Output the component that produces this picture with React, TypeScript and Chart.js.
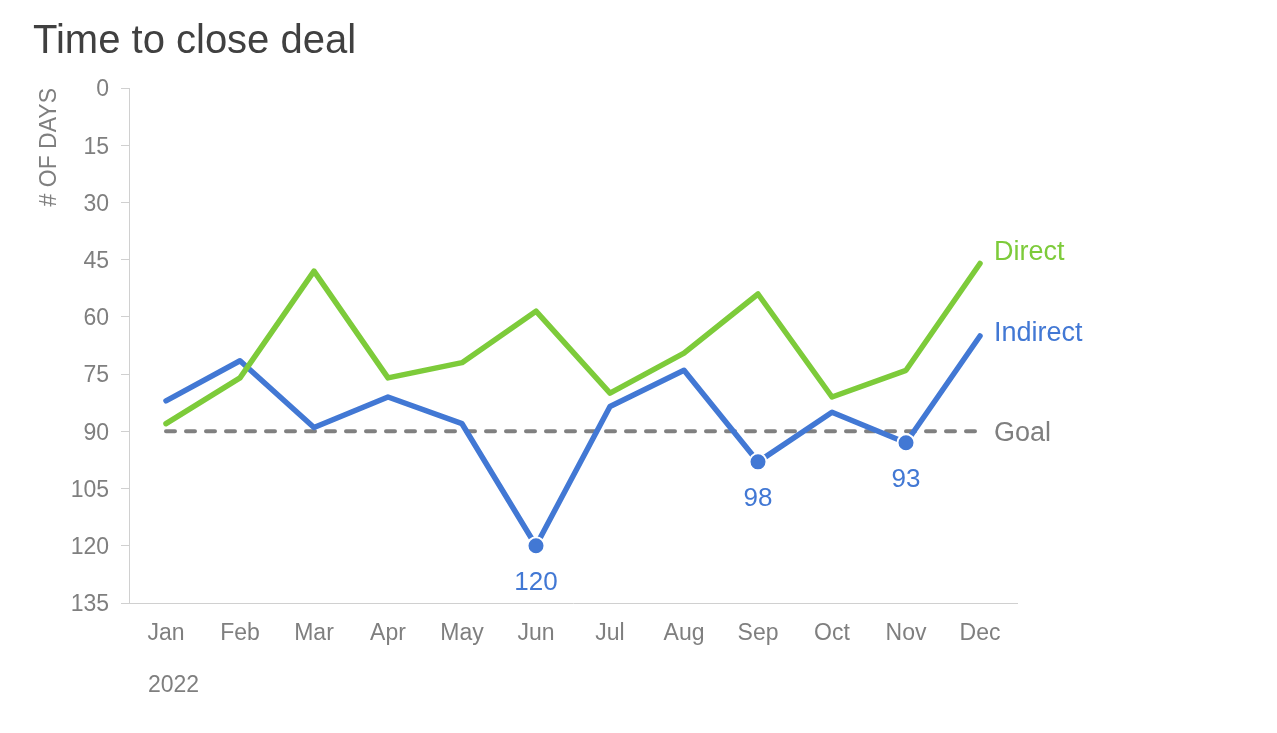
import React, { useEffect, useRef } from "react";
import { Chart, registerables } from "chart.js";

Chart.register(...registerables);

const FONT = '"Liberation Sans", Arial, Helvetica, sans-serif';

const chartTitle = "Time to close deal";
const yAxisTitle = "# OF DAYS";
const yearLabel = "2022";
const months = ["Jan", "Feb", "Mar", "Apr", "May", "Jun", "Jul", "Aug", "Sep", "Oct", "Nov", "Dec"];
const directDays = [88, 76, 48, 76, 72, 58.5, 80, 69.5, 54, 81, 74, 46];
const indirectDays = [82, 71.5, 89, 81, 88, 120, 83.5, 74, 98, 85, 93, 65];
const goalDays = [90, 90, 90, 90, 90, 90, 90, 90, 90, 90, 90, 90];
const highlightedMonths = ["Jun", "Sep", "Nov"];
const yMin = 0;
const yMax = 135;
const yStep = 15;

const GREEN = "#7DCB3A";
const BLUE = "#4278D4";
const GOAL_GRAY = "#808080";
const TEXT_GRAY = "#7F7F7F";
const AXIS_GRAY = "#D0D0D0";

const annotationPlugin = {
  id: "annotations",
  afterDraw(chart: any) {
    const ctx = chart.ctx;
    const xs = chart.scales.x;
    const ys = chart.scales.y;
    const area = chart.chartArea;
    ctx.save();

    // Title
    ctx.font = `40px ${FONT}`;
    ctx.fillStyle = "#404040";
    ctx.textAlign = "left";
    ctx.textBaseline = "alphabetic";
    ctx.fillText(chartTitle, 33, 53);

    // Y-axis title (rotated, aligned to the top of the axis)
    ctx.save();
    ctx.translate(56, area.top);
    ctx.rotate(-Math.PI / 2);
    ctx.font = `23px ${FONT}`;
    ctx.fillStyle = TEXT_GRAY;
    ctx.textAlign = "right";
    ctx.textBaseline = "alphabetic";
    ctx.fillText(yAxisTitle, 0, 0);
    ctx.restore();

    // Series end labels
    const last = months.length - 1;
    const endOffsets = [-3, 5, 10];
    const endColors = [GREEN, BLUE, TEXT_GRAY];
    chart.data.datasets.forEach((ds: any, i: number) => {
      const px = xs.getPixelForValue(last) + 14;
      const py = ys.getPixelForValue(ds.data[last]) + endOffsets[i];
      ctx.font = `27px ${FONT}`;
      ctx.fillStyle = endColors[i];
      ctx.textAlign = "left";
      ctx.textBaseline = "alphabetic";
      ctx.fillText(ds.label, px, py);
    });

    // Data labels for highlighted points
    ctx.font = `26px ${FONT}`;
    ctx.fillStyle = BLUE;
    ctx.textAlign = "center";
    ctx.textBaseline = "alphabetic";
    highlightedMonths.forEach((m) => {
      const idx = months.indexOf(m);
      const v = indirectDays[idx];
      ctx.fillText(String(v), xs.getPixelForValue(idx), ys.getPixelForValue(v) + 44);
    });

    // Year label under the first month
    ctx.font = `23px ${FONT}`;
    ctx.fillStyle = TEXT_GRAY;
    ctx.textAlign = "left";
    ctx.fillText(yearLabel, xs.getPixelForValue(0) - 18, 692);

    ctx.restore();
  },
};

export default function App() {
  const canvasRef = useRef<HTMLCanvasElement | null>(null);

  useEffect(() => {
    if (!canvasRef.current) return;
    const pointRadii = months.map((m) => (highlightedMonths.includes(m) ? 8.5 : 0));
    const chart = new Chart(canvasRef.current, {
      type: "line",
      data: {
        labels: months,
        datasets: [
          {
            label: "Direct",
            data: directDays,
            borderColor: GREEN,
            backgroundColor: GREEN,
            borderWidth: 5.5,
            pointRadius: 0,
            pointHoverRadius: 0,
            tension: 0,
            borderJoinStyle: "round",
            borderCapStyle: "round",
          },
          {
            label: "Indirect",
            data: indirectDays,
            borderColor: BLUE,
            backgroundColor: BLUE,
            borderWidth: 5.5,
            pointRadius: pointRadii,
            pointBackgroundColor: BLUE,
            pointBorderColor: "#FFFFFF",
            pointBorderWidth: 2,
            pointHoverRadius: 0,
            tension: 0,
            borderJoinStyle: "round",
            borderCapStyle: "round",
          },
          {
            label: "Goal",
            data: goalDays,
            borderColor: GOAL_GRAY,
            backgroundColor: GOAL_GRAY,
            borderWidth: 4,
            borderDash: [9, 11],
            borderCapStyle: "round",
            pointRadius: 0,
            pointHoverRadius: 0,
            tension: 0,
          },
        ],
      },
      options: {
        animation: false,
        responsive: false,
        events: [],
        layout: { padding: { top: 88, left: 0, right: 260, bottom: 0 } },
        plugins: {
          legend: { display: false },
          title: { display: false },
          tooltip: { enabled: false },
        },
        scales: {
          x: {
            offset: true,
            grid: { display: false, drawTicks: false },
            border: { display: true, color: AXIS_GRAY, width: 1 },
            ticks: {
              color: TEXT_GRAY,
              font: { family: FONT, size: 23 },
              padding: 17,
              maxRotation: 0,
              autoSkip: false,
            },
            afterFit: (scale: any) => {
              scale.height = 130;
            },
          },
          y: {
            reverse: true,
            min: yMin,
            max: yMax,
            grid: {
              display: true,
              drawOnChartArea: false,
              drawTicks: true,
              tickLength: 8,
              color: AXIS_GRAY,
            },
            border: { display: true, color: AXIS_GRAY, width: 1 },
            ticks: {
              stepSize: yStep,
              color: TEXT_GRAY,
              font: { family: FONT, size: 23 },
              padding: 12,
              labelOffset: 2,
            },
            afterFit: (scale: any) => {
              scale.width = 129;
            },
          },
        },
      },
      plugins: [annotationPlugin],
    } as any);
    return () => chart.destroy();
  }, []);

  return (
    <div style={{ position: "absolute", left: 0, top: 0, width: 1277, height: 733, background: "#fff" }}>
      <canvas ref={canvasRef} width={1277} height={733} />
    </div>
  );
}
